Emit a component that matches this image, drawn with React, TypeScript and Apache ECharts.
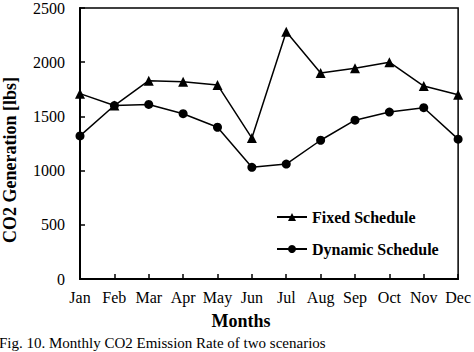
import React, { useEffect, useRef } from "react";
import * as echarts from "echarts";

const months = ["Jan", "Feb", "Mar", "Apr", "May", "Jun", "Jul", "Aug", "Sep", "Oct", "Nov", "Dec"];
const fixedSchedule = [1710, 1600, 1830, 1820, 1790, 1300, 2280, 1900, 1945, 2000, 1780, 1700];
const dynamicSchedule = [1320, 1600, 1610, 1525, 1400, 1030, 1060, 1280, 1465, 1540, 1580, 1290];
const yMin = 0;
const yMax = 2500;
const yInterval = 500;

const serif = "'Liberation Serif', 'Times New Roman', serif";

export default function App() {
  const ref = useRef<HTMLDivElement>(null);
  useEffect(() => {
    if (!ref.current) return;
    const chart = echarts.init(ref.current, null, { renderer: "svg" });
    chart.setOption({
      animation: false,
      backgroundColor: "#fff",
      grid: {
        left: 80,
        right: 14,
        top: 6,
        bottom: 73,
        show: true,
        borderColor: "#000",
        borderWidth: 1.5,
      },
      legend: {
        orient: "vertical",
        left: 271,
        top: 204,
        itemWidth: 30,
        itemHeight: 10,
        itemGap: 16,
        data: ["Fixed Schedule", "Dynamic Schedule"],
        textStyle: { fontFamily: serif, fontWeight: "bold", fontSize: 16, color: "#000" },
      },
      xAxis: {
        type: "category",
        data: months,
        boundaryGap: false,
        axisLine: { lineStyle: { color: "#000", width: 2 } },
        axisTick: { inside: true, length: 5, interval: 0, lineStyle: { color: "#000", width: 1.5 } },
        axisLabel: { fontFamily: serif, fontSize: 16, color: "#000", margin: 10, interval: 0 },
        splitLine: { show: false },
      },
      yAxis: {
        type: "value",
        min: yMin,
        max: yMax,
        interval: yInterval,
        axisLine: { show: true, lineStyle: { color: "#000", width: 2 } },
        axisTick: { show: true, inside: true, length: 5, lineStyle: { color: "#000", width: 1.5 } },
        axisLabel: {
          fontFamily: serif,
          fontSize: 16,
          color: "#000",
          margin: 15,
          formatter: (v: number) => String(v),
        },
        splitLine: { show: false },
      },
      series: [
        {
          name: "Fixed Schedule",
          type: "line",
          data: fixedSchedule,
          symbol: "triangle",
          symbolSize: 10,
          lineStyle: { color: "#000", width: 1.5 },
          itemStyle: { color: "#000" },
        },
        {
          name: "Dynamic Schedule",
          type: "line",
          data: dynamicSchedule,
          symbol: "circle",
          symbolSize: 9,
          lineStyle: { color: "#000", width: 1.5 },
          itemStyle: { color: "#000" },
        },
      ],
      graphic: [
        {
          type: "text",
          x: 10,
          y: 160,
          rotation: Math.PI / 2,
          style: {
            text: "CO2 Generation [lbs]",
            fontFamily: serif,
            fontWeight: "bold",
            fontSize: 18,
            fill: "#000",
            align: "center",
            verticalAlign: "middle",
          },
        },
        {
          type: "text",
          x: 241,
          y: 321,
          style: {
            text: "Months",
            fontFamily: serif,
            fontWeight: "bold",
            fontSize: 18,
            fill: "#000",
            align: "center",
            verticalAlign: "middle",
          },
        },
        {
          type: "text",
          x: -1,
          y: 335,
          style: {
            text: "Fig. 10. Monthly CO2 Emission Rate of two scenarios",
            fontFamily: serif,
            fontSize: 15,
            fill: "#000",
            align: "left",
            verticalAlign: "top",
          },
        },
      ],
    });
    return () => chart.dispose();
  }, []);
  return (
    <div
      ref={ref}
      style={{ position: "fixed", left: 0, top: 0, width: 474, height: 352, background: "#fff" }}
    />
  );
}
